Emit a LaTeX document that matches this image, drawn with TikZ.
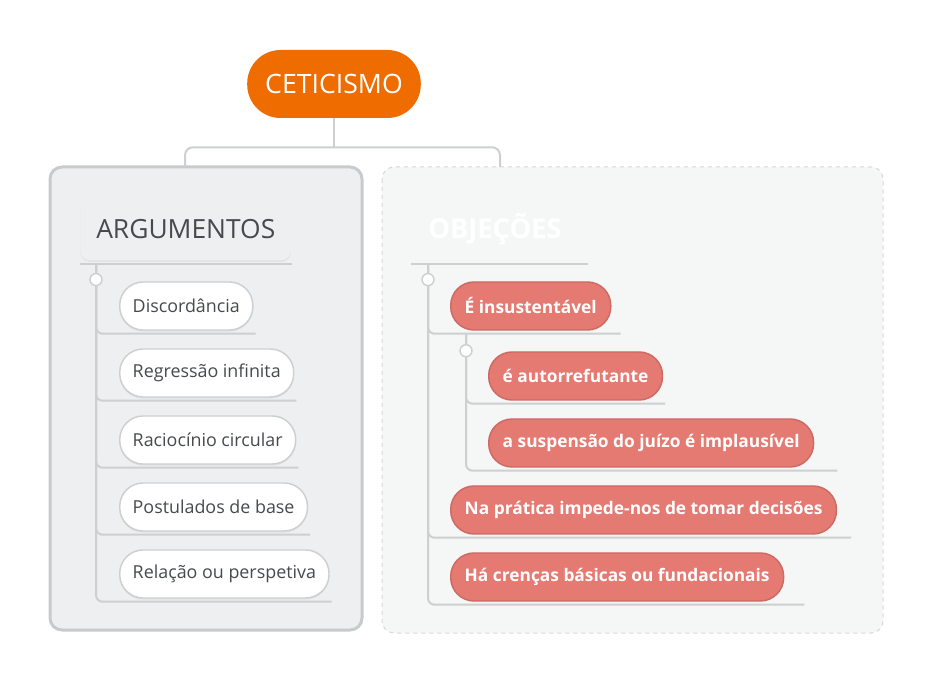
\documentclass[tikz,border=0pt]{standalone}
\usepackage{fontspec}
\setmainfont{Open Sans}
\usetikzlibrary{calc,shadows}
\definecolor{orangeroot}{HTML}{EF6C00}
\definecolor{salmon}{HTML}{E57A72}
\definecolor{salmonline}{HTML}{CC6A64}
\definecolor{lineg}{HTML}{CDCFD0}
\definecolor{textg}{HTML}{474A4C}
\definecolor{lfill}{HTML}{EEEFF1}
\definecolor{lborder}{HTML}{C8CACC}
\definecolor{rfill}{HTML}{F5F6F6}
\definecolor{rborder}{HTML}{D6D8D9}
\tikzset{
    line/.style={draw=lineg, line width=1.5pt},
    knob/.style={circle, draw=lineg, line width=1.1pt, fill=white, minimum size=9pt, inner sep=0},
    topic/.style={fill=orangeroot, text=white, rounded corners=25pt, minimum height=51pt, inner xsep=13.5pt, font=\fontsize{20}{22}\selectfont},
    head/.style={rounded corners=7.5pt, minimum height=47pt, inner xsep=12pt, text width=134pt, font=\fontsize{19.8}{22}\selectfont},
    arg/.style={draw=lineg, line width=1.1pt, fill=white, text=textg, rounded corners=17.5pt, minimum height=36pt, inner xsep=9.75pt, font=\fontsize{13.4}{15}\selectfont,
        drop shadow={opacity=0.12, shadow xshift=0pt, shadow yshift=-1.2pt}},
    obj/.style={draw=salmonline, line width=1.1pt, fill=salmon, text=white, rounded corners=17.5pt, minimum height=36pt, inner xsep=10.5pt, font=\bfseries\fontsize{13}{15}\selectfont}
}
\begin{document}
\begin{tikzpicture}[x=0.75pt, y=-0.75pt]
    \useasboundingbox (0,0) rectangle (933,684);
    % group boxes
    \draw[draw=lborder, fill=lfill, line width=2.25pt, rounded corners=9pt] (50,167) rectangle (362,630);
    \draw[draw=rborder, fill=rfill, line width=0.75pt, dashed, rounded corners=9pt] (382,167) rectangle (883,633);

    \node[topic] (root) at (334,84) {CETICISMO};
    \coordinate (lg) at (185,167);
    \coordinate (rg) at (500,167);
    \draw[line] (root.south) -- ++(0,29);
    \draw[line, rounded corners=6pt] (lg) |- ($(root.south)+(0,29)$) -| (rg);

    % argumentos
    \node[head, fill=lfill, text=textg, anchor=west, drop shadow={opacity=0.1, shadow xshift=0pt, shadow yshift=-1.2pt}] (ha) at (80,229) {ARGUMENTOS};
    \draw[line] ($(ha.south west)+(0,3)$) -- ($(ha.south east)+(1,3)$);
    \coordinate (lt) at ($(ha.south west)+(16,3)$);
    \foreach \txt [count=\i] in {Discordância, Regressão infinita, Raciocínio circular, Postulados de base, Relação ou perspetiva} {
        \node[arg, anchor=west] (a\i) at (119,239+67*\i) {\txt};
        \draw[line, rounded corners=5pt] (lt) |- ($(a\i.south east)+(2,3)$);
    }
    \node[knob] at ($(lt)+(0,16)$) {};

    % objecoes
    \node[head, text=white, font=\bfseries\fontsize{20.5}{22}\selectfont, text width=107pt, inner xsep=12.75pt, anchor=west] (ho) at (411,229) {OBJEÇÕES};
    \draw[line] ($(ho.south west)+(0,3)$) -- ($(ho.south east)+(0,3)$);
    \coordinate (rt) at ($(ho.south west)+(17,3)$);

    \node[obj, anchor=west] (o1) at (450,306) {É insustentável};
    \node[obj, anchor=west] (o11) at (488,376) {é autorrefutante};
    \node[obj, anchor=west] (o12) at (488,443) {a suspensão do juízo é implausível};
    \node[obj, anchor=west] (o2) at (450,510) {Na prática impede-nos de tomar decisões};
    \node[obj, anchor=west] (o3) at (450,577) {Há crenças básicas ou fundacionais};

    \coordinate (st) at ($(o1.south west)+(16,3)$);
    \draw[line, rounded corners=5pt] (rt) |- ($(o1.south east)+(9,3)$);
    \draw[line, rounded corners=5pt] (rt) |- ($(o2.south east)+(14,3)$);
    \draw[line, rounded corners=5pt] (rt) |- ($(o3.south east)+(20,3)$);
    \draw[line, rounded corners=5pt] (st) |- ($(o11.south east)+(2,3)$);
    \draw[line, rounded corners=5pt] (st) |- ($(o12.south east)+(23,3)$);
    \node[knob] at ($(rt)+(0,16)$) {};
    \node[knob] at ($(st)+(0,17)$) {};
\end{tikzpicture}
\end{document}
